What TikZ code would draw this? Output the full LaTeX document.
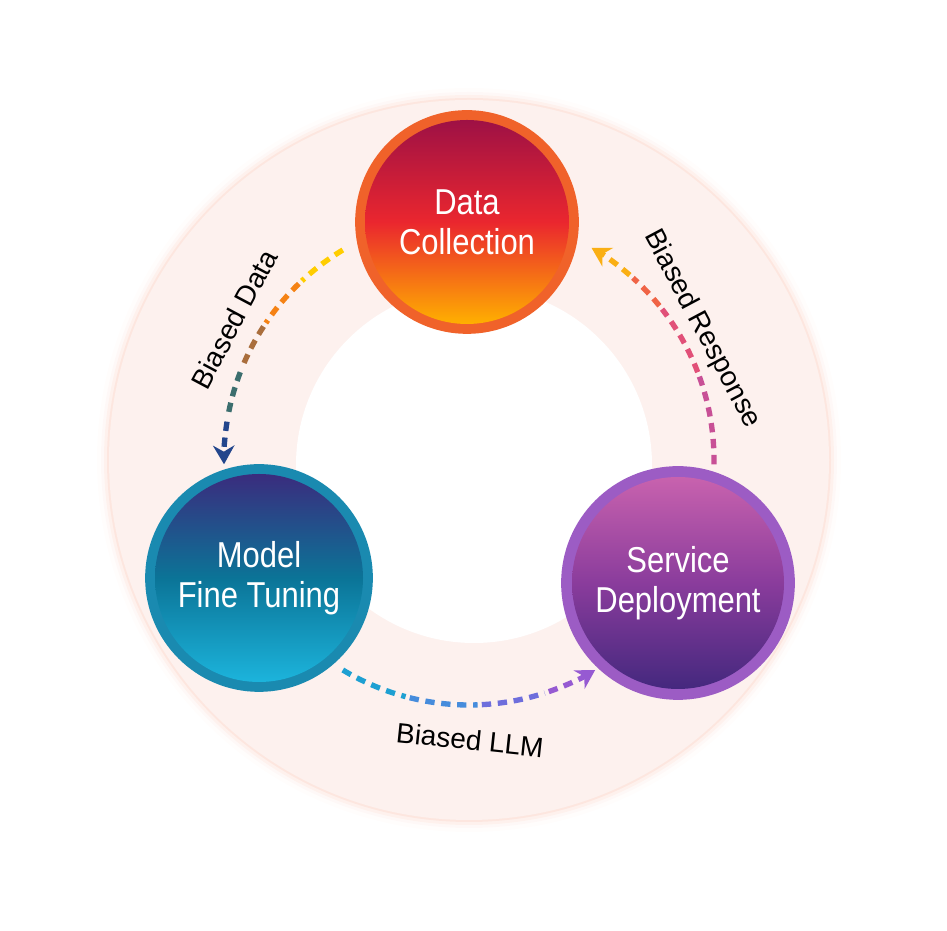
\documentclass[tikz,border=0pt]{standalone}
\usepackage{fontspec}
\setmainfont{Liberation Sans}
\usetikzlibrary{arrows.meta,calc}
\definecolor{ringfill}{HTML}{FDF1EE}
\definecolor{ringedge}{HTML}{FBD3C6}
\definecolor{dcA}{HTML}{9E1145}\definecolor{dcB}{HTML}{E5103A}\definecolor{dcC}{HTML}{FFB000}
\definecolor{mfA}{HTML}{3A2C7E}\definecolor{mfB}{HTML}{0B7497}\definecolor{mfC}{HTML}{1CB4DC}
\definecolor{sdA}{HTML}{C862AE}\definecolor{sdB}{HTML}{8A3C9C}\definecolor{sdC}{HTML}{44287E}
\definecolor{dcE}{HTML}{F0622A}\definecolor{mfE}{HTML}{1A8AB0}\definecolor{sdE}{HTML}{9C5CC4}
\tikzset{
 stage/.style={inner sep=0pt,text=white,align=center,xscale=0.86,
   font=\fontsize{27}{30}\selectfont},
 rim/.style={line width=1.3pt,fill=white},
 dsh/.style={line width=4pt,dash pattern=on 7pt off 5pt},
 lbl/.style={font=\fontsize{21}{23}\selectfont,text=black}
}
\begin{document}
\begin{tikzpicture}[x=0.75pt,y=0.75pt]
\useasboundingbox (0,0) rectangle (947,931);
% ring
\foreach \r/\o in {372/0.05,368/0.1,365/0.2,362/0.35}{\fill[ringedge,opacity=\o] (469,471) circle (\r);}
\fill[ringfill] (469,471) circle (360);
\fill[white] (474,466) circle (178);
\coordinate (C) at (469,471);
% stages
\draw[rim,dcE] (467,709) circle (111);
\shade[top color=dcA,bottom color=dcC,middle color=dcB!80!orange] (467,709) circle (102);
\node[stage] (dc) at (467,709) {Data\\Collection};
\draw[rim,mfE] (259,353) circle (113);
\shade[top color=mfA,bottom color=mfC,middle color=mfB] (259,353) circle (104);
\node[stage] (mf) at (259,353) {Model\\Fine Tuning};
\draw[rim,sdE] (678,348) circle (116);
\shade[top color=sdA,bottom color=sdC,middle color=sdB] (678,348) circle (106);
\node[stage] (sd) at (678,348) {Service\\Deployment};
% arcs
\draw[dsh,color={rgb,255:red,255;green,205;blue,0}] (C) ++(121:245) arc(121:133:245);
\draw[dsh,color={rgb,255:red,245;green,130;blue,20}] (C) ++(134:245) arc(134:146:245);
\draw[dsh,color={rgb,255:red,170;green,110;blue,60}] (C) ++(147:245) arc(147:158:245);
\draw[dsh,color={rgb,255:red,60;green,110;blue,110}] (C) ++(159:245) arc(159:170:245);
\draw[dsh,color={rgb,255:red,35;green,70;blue,140},-{Stealth[length=14pt,width=16pt]}] (C) ++(171:245) arc(171:181:245);
\draw[dsh,color={rgb,255:red,30;green,160;blue,210}] (C) ++(239:245) arc(239:255:245);
\draw[dsh,color={rgb,255:red,70;green,140;blue,220}] (C) ++(256:245) arc(256:272:245);
\draw[dsh,color={rgb,255:red,110;green,110;blue,220}] (C) ++(273:245) arc(273:288:245);
\draw[dsh,color={rgb,255:red,150;green,90;blue,210},-{Stealth[length=14pt,width=16pt]}] (C) ++(289:245) arc(289:301:245);
\draw[dsh,color={rgb,255:red,200;green,80;blue,150}] (C) ++(-1:245) arc(-1:20:245);
\draw[dsh,color={rgb,255:red,225;green,80;blue,120}] (C) ++(21:245) arc(21:38:245);
\draw[dsh,color={rgb,255:red,240;green,100;blue,70}] (C) ++(39:245) arc(39:48:245);
\draw[dsh,color={rgb,255:red,250;green,175;blue,20},-{Stealth[length=14pt,width=16pt]}] (C) ++(49:245) arc(49:60:245);
% labels
\node[lbl,rotate=62] (l1) at (234,612) {Biased Data};
\node[lbl,rotate=-62] (l2) at (702,602) {Biased Response};
\node[lbl,rotate=-6] (l3) at (470,191) {Biased LLM};
\end{tikzpicture}
\end{document}
